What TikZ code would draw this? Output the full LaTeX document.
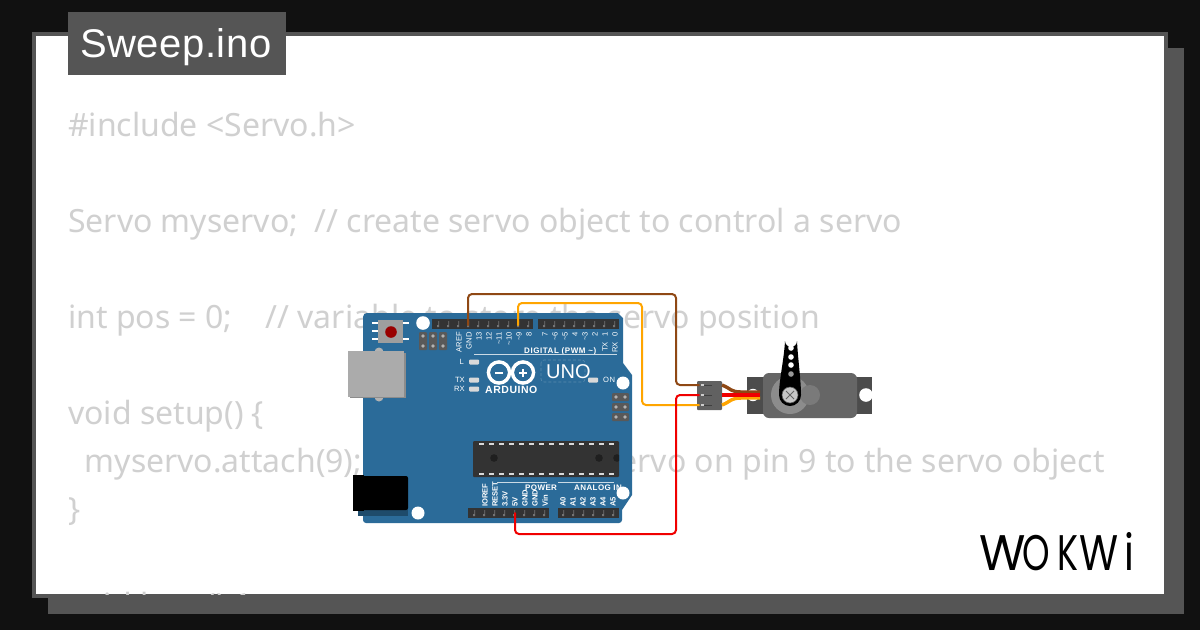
\documentclass[tikz,border=0pt]{standalone}
\usepackage{fontspec}
\setmainfont{Liberation Sans}
\newfontfamily\codefont{Noto Sans}
\newfontfamily\logofont{Poppins}
\definecolor{bgdark}{HTML}{111111}
\definecolor{frameg}{HTML}{555555}
\definecolor{codeg}{HTML}{D0D0D0}
\definecolor{pcb}{HTML}{2B6B99}
\definecolor{wirebrown}{HTML}{8F4814}
\definecolor{wireorange}{HTML}{FFA500}
\definecolor{wirered}{HTML}{F00000}
\tikzset{
  codeline/.style={anchor=base west,inner sep=0,text=codeg,font=\codefont\fontsize{32}{38}\selectfont},
  pinlbl/.style={rotate=90,anchor=east,inner sep=0,text=white,font=\fontsize{7.6}{8}\selectfont},
  pinlblb/.style={rotate=90,anchor=west,inner sep=0,text=white,font=\bfseries\fontsize{7.6}{8}\selectfont},
  boardlbl/.style={inner sep=0,text=white,font=\fontsize{7.6}{8}\selectfont},
  boardbold/.style={inner sep=0,text=white,font=\bfseries\fontsize{8}{9}\selectfont},
  hdr/.style={fill=black!80,draw=none},
  led/.style={fill=white!85!black,rounded corners=1pt,draw=none},
  wire/.style={line width=2pt,rounded corners=4pt,line cap=round},
  cable/.style={line width=3.4pt},
  hole/.style={fill=white,draw=none},
}
\begin{document}
\begin{tikzpicture}[x=1pt,y=-1pt]
\useasboundingbox (0,0) rectangle (1200,630);
\fill[bgdark] (0,0) rectangle (1200,630);
\fill[frameg] (48,48) rectangle (1184,614);
\fill[frameg] (32,32) rectangle (1168,598);
\fill[white] (36,36) rectangle (1164,594);
% code
\begin{scope}
\clip (36,36) rectangle (1164,594);
\node[codeline] (l1) at (68,136) {\#include <Servo.h>};
\node[codeline] (l2) at (68,232) {Servo myservo;\ \ // create servo object to control a servo};
\node[codeline] (l3) at (68,328) {int pos = 0;\ \ \ \ // variable to store the servo position};
\node[codeline] (l4) at (68,424) {void setup() \{};
\node[codeline] (l5) at (68,472) {\ \ myservo.attach(9);\ \ // attaches the servo on pin 9 to the servo object};
\node[codeline] (l6) at (68,520) {\}};
\node[codeline] (l7) at (68,616) {void loop() \{};
\end{scope}
% title
\fill[frameg] (68,12) rectangle (286,75);
\node[anchor=base west,inner sep=0,text=white,font=\fontsize{40}{48}\selectfont] (title) at (80,57) {\addfontfeature{LetterSpace=1.4}Sweep.ino};
% board
\fill[pcb] (367,313) -- (618,313) -- (623,318) -- (623,363) -- (632,375) -- (632,495) -- (622,510) -- (622,520) arc (0:90:3) -- (366,523) arc (90:180:3) -- (363,317) arc (180:270:4) -- cycle;
% USB
\fill[white!70!black] (379,352) circle (4.5);
\fill[white!70!black] (379,397) circle (4.5);
\fill[black!45] (350,353) rectangle (406,398);
\fill[white!67!black] (348,351) rectangle (404,397);
% jack
\fill[pcb!70!black] (358,480) rectangle (408,516);
\fill[black] (353,475) rectangle (364,511);
\fill[black,rounded corners=2pt] (360,476) rectangle (408,510);
% reset
\foreach \y in {323,331,339} \fill[white] (372,\y-1.3) rectangle (379,\y+1.3);
\foreach \y in {323,339} \fill[white] (402,\y-1.3) rectangle (409,\y+1.3);
\fill[black!38] (378,320) rectangle (403,343);
\fill[red!60!black] (391,332) circle (5.8);
% holes
\fill[hole] (423,323) circle (6.8);
\fill[hole] (623,383) circle (6.5);
\fill[hole] (623,493) circle (6.5);
\fill[hole] (418,513) circle (6.5);
% ICSP 1
\foreach \x in {423,433,443} {
  \fill[black!65,rounded corners=1pt] (\x-4,332) rectangle (\x+4,350);
  \foreach \y in {336,346} \fill[black!30] (\x,\y) circle (1.9);
}
% ICSP 2
\foreach \y in {397,407,417} {
  \fill[black!65,rounded corners=1pt] (612,\y-4) rectangle (629,\y+4);
  \foreach \x in {616,625} \fill[black!30] (\x,\y) circle (1.9);
}
% headers
\fill[hdr] (432,319) rectangle (533,329);
\fill[hdr] (538,319) rectangle (619,329);
\fill[hdr] (468,508) rectangle (549,518);
\fill[hdr] (558,508) rectangle (619,518);
\foreach \x in {438,448,...,528} \fill[black!55] (\x-1,325) rectangle (\x+1,327) (\x+.3,321) rectangle (\x+1,327);
\foreach \x in {544,554,...,614} \fill[black!55] (\x-1,325) rectangle (\x+1,327) (\x+.3,321) rectangle (\x+1,327);
\foreach \x in {474,484,...,544} \fill[black!55] (\x-1,514) rectangle (\x+1,516) (\x+.3,510) rectangle (\x+1,516);
\foreach \x in {563,573,...,613} \fill[black!55] (\x-1,514) rectangle (\x+1,516) (\x+.3,510) rectangle (\x+1,516);
% top pin labels
\node[pinlbl] (tAREF) at (459,332) {AREF};
\node[pinlbl] (tGND) at (469,332) {GND};
\node[pinlbl] (t13) at (479,332) {13};
\node[pinlbl] (t12) at (489,332) {12};
\node[pinlbl] (t11) at (499,332) {\textasciitilde 11};
\node[pinlbl] (t10) at (509,332) {\textasciitilde 10};
\node[pinlbl] (t9) at (519,332) {\textasciitilde 9};
\node[pinlbl] (t8) at (529,332) {8};
\node[pinlbl] (t7) at (545,332) {7};
\node[pinlbl] (t6) at (555,332) {\textasciitilde 6};
\node[pinlbl] (t5) at (565,332) {\textasciitilde 5};
\node[pinlbl] (t4) at (575,332) {4};
\node[pinlbl] (t3) at (585,332) {\textasciitilde 3};
\node[pinlbl] (t2) at (595,332) {2};
\node[pinlbl] (t1) at (605,332) {1};
\node[pinlbl] (t0) at (615,332) {0};
\node[pinlbl] (tTX) at (605,342) {TX};
\node[pinlbl] (tRX) at (615,342) {RX};
\node[boardbold,anchor=base west] (dig) at (524,353) {\addfontfeature{LetterSpace=7}DIGITAL (PWM \textasciitilde)};
\fill[white!75!pcb] (474,354) rectangle (617,355);
% leds
\foreach \x/\y/\n in {469/362/ledL,469/380/ledTX,469/389/ledRX,588/380/ledON}
  \node[led,minimum width=10pt,minimum height=5pt,inner sep=0,anchor=west] (\n) at (\x,\y) {};
\node[boardlbl,anchor=east] (lL) at (464,362) {L};
\node[boardlbl,anchor=east] (lTX) at (465,380) {TX};
\node[boardlbl,anchor=east] (lRX) at (465,389) {RX};
\node[boardlbl,anchor=west] (lON) at (603,380) {\addfontfeature{LetterSpace=6}ON};
% logo
\draw[white,line width=3.6pt] (499,372.5) circle (10.5);
\draw[white,line width=3.6pt] (523,372.5) circle (10.5);
\fill[pcb] (499,372.5) circle (8.6);
\fill[pcb] (523,372.5) circle (8.6);
\fill[white] (495,371.5) rectangle (503,373.5);
\fill[white] (519,371.5) rectangle (527,373.5);
\fill[white] (522,368.5) rectangle (524,376.5);
\node[inner sep=0,anchor=base west,text=white,font=\bfseries\fontsize{10.5}{12}\selectfont] (ard) at (485,393) {\addfontfeature{LetterSpace=5}ARDUINO};
\draw[white!22!pcb,rounded corners=3pt,densely dashed,line width=.6pt] (541,360) rectangle (585,382);
\node[inner sep=0,anchor=base west,text=white,font=\fontsize{20}{22}\selectfont] (uno) at (546,378) {UNO};
% chip
\fill[black!80,rounded corners=1pt] (473,441) rectangle (619,477);
\foreach \x in {481,491,...,611} {
  \fill[white!85!black] (\x-2.5,443.4) rectangle (\x+2.5,445);
  \fill[white!85!black] (\x-2.5,473) rectangle (\x+2.5,474.6);
}
\fill[black!88] (494,458) circle (3.8);
\fill[black!88] (599,458) circle (3.8);
\begin{scope}
\clip (473,441) rectangle (619,477);
\fill[black!88] (617,458) circle (3.8);
\end{scope}
% power labels
\fill[white!75!pcb] (497,481.5) rectangle (547,482.5);
\fill[white!75!pcb] (558,481.5) rectangle (614,482.5);
\node[boardbold,anchor=base west] (pow) at (525,490) {\addfontfeature{LetterSpace=5}POWER};
\node[boardbold,anchor=base west] (ana) at (574,490) {\addfontfeature{LetterSpace=5}ANALOG IN};
\node[pinlblb] (bIOREF) at (485,507) {IOREF};
\node[pinlblb] (bRESET) at (495,507) {RESET};
\node[pinlblb] (b33) at (505,507) {3.3V};
\node[pinlblb] (b5V) at (515,507) {5V};
\node[pinlblb] (bG1) at (525,507) {GND};
\node[pinlblb] (bG2) at (535,507) {GND};
\node[pinlblb] (bVin) at (545,507) {Vin};
\node[pinlblb] (bA0) at (563,507) {A0};
\node[pinlblb] (bA1) at (573,507) {A1};
\node[pinlblb] (bA2) at (583,507) {A2};
\node[pinlblb] (bA3) at (593,507) {A3};
\node[pinlblb] (bA4) at (603,507) {A4};
\node[pinlblb] (bA5) at (613,507) {A5};
% servo
\fill[black!70] (747,377) rectangle (872,414);
\fill[hole] (753,395) circle (6.2);
\fill[hole] (866,395) circle (6.8);
\fill[black!60,rounded corners=6pt] (763,373) rectangle (857,418);
\fill[black!45] (790,395) circle (19);
\fill[black!52] (810,395) circle (10);
\fill[black] (779,395) .. controls (779,380) and (784,360) .. (785,341) arc (180:0:6) .. controls (798,360) and (801,380) .. (801,395) arc (0:180:11) -- cycle;
\foreach \y in {348,357,365} \fill[white] (791,\y) circle (2.8);
\fill[black!40] (791,374) circle (2.8);
\fill[black!22] (790,395) circle (8);
\draw[black!60,line width=.8pt] (786,391) -- (794,399) (794,391) -- (786,399);
\draw[black!65,line width=.6pt] (790,395) circle (8);
% connector
\node[fill=black!62,draw=none,minimum width=25pt,minimum height=29pt,inner sep=0,rounded corners=1pt] (conn) at (709.5,395.5) {};
\coordinate (c1) at (699,385);
\coordinate (c2) at (699,395);
\coordinate (c3) at (699,405);
\coordinate (o1) at (722,385);
\coordinate (o2) at (722,395);
\coordinate (o3) at (722,405);
\coordinate (s1) at (760,392);
\coordinate (s2) at (760,395);
\coordinate (s3) at (760,398);
\coordinate (pgnd) at (468,325);
\coordinate (p9) at (518,325);
\coordinate (p5v) at (515,513);
\coordinate (b1) at (676,294);
\coordinate (b2) at (642,303);
\coordinate (b3) at (676,534);
% cables
\draw[wirebrown,cable] (o1) .. controls (732,389) and (730,392) .. (742,392) -- (s1);
\draw[wireorange,cable] (o3) .. controls (732,401) and (730,398) .. (742,398) -- (s3);
\draw[wirered,cable] (o2) -- (s2);
% wires
\draw[wire,wirebrown] (pgnd) |- (b1) |- (c1);
\draw[wire,wireorange] (p9) |- (b2) |- (c3);
\draw[wire,wirered] (p5v) |- (b3) |- (c2);
\foreach \n in {c1,c2,c3} {
  \fill[white!80!black] (\n) ++(2,-1) rectangle ++(3,2);
  \fill[black!75] (\n) ++(5,-.4) rectangle ++(8,.8);
}
% wokwi
\node[inner sep=0,anchor=base west,text=black,font=\logofont\fontsize{50}{52}\selectfont] (wokwi) at (979,570) {\scalebox{.95}[1]{W}\kern-3pt\scalebox{.7}[1]{O}\kern7pt\scalebox{.7}[1]{K}\kern1pt\scalebox{.8}[1]{W}\kern6pt\scalebox{.8}[1]{i}};
\end{tikzpicture}
\end{document}
